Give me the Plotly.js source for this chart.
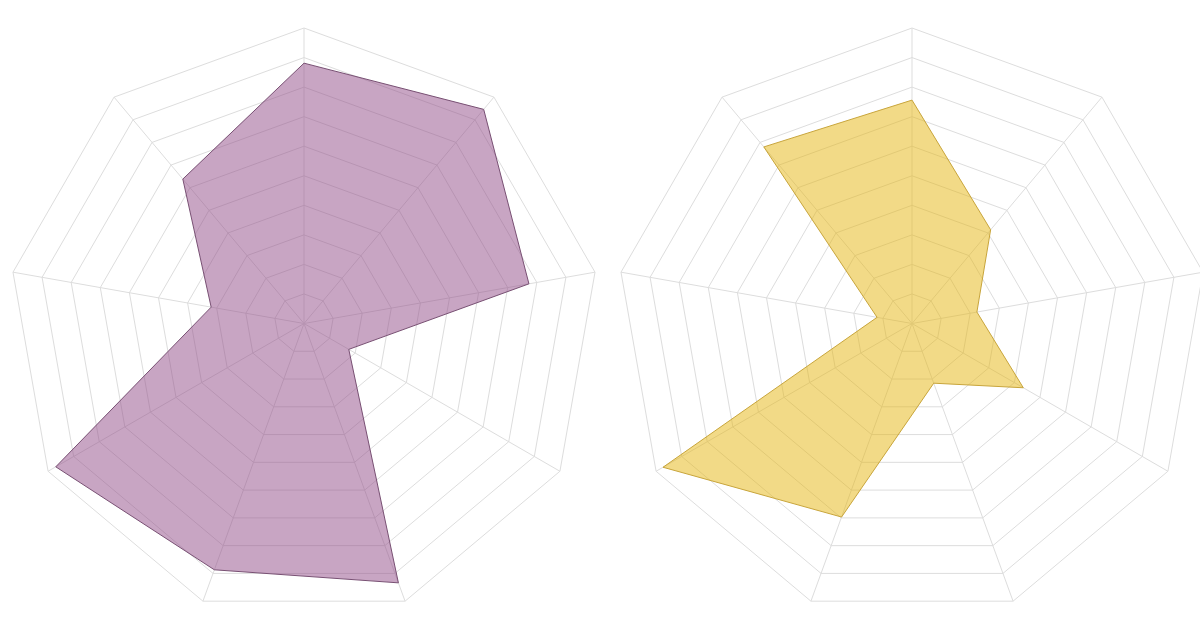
<!DOCTYPE html>
<html>
<head>
<meta charset="utf-8">
<script src="https://cdn.plot.ly/plotly-3.0.1.min.js"></script>
<style>
html,body{margin:0;padding:0;overflow:hidden;background:#fff;}
#chart{width:1216px;height:630px;}
</style>
</head>
<body>
<div id="chart"></div>
<script>
var categories = ["A", "B", "C", "D", "E", "F", "G", "H", "I"];
var seriesLeft = [8.81, 9.46, 7.73, 1.75, 9.34, 8.87, 9.70, 3.19, 6.38];
var seriesRight = [7.56, 4.14, 2.23, 4.35, 2.15, 6.97, 9.73, 1.20, 7.80];

function closed(arr) { return arr.concat([arr[0]]); }

var traces = [
  {
    type: "scatterpolar",
    r: closed(seriesLeft),
    theta: closed(categories),
    fill: "toself",
    fillcolor: "rgba(145,75,135,0.5)",
    line: {color: "rgb(120,80,115)", width: 1},
    mode: "lines",
    subplot: "polar",
    hoverinfo: "skip"
  },
  {
    type: "scatterpolar",
    r: closed(seriesRight),
    theta: closed(categories),
    fill: "toself",
    fillcolor: "rgba(229,181,15,0.5)",
    line: {color: "rgb(200,165,60)", width: 1},
    mode: "lines",
    subplot: "polar2",
    hoverinfo: "skip"
  }
];

function polarCfg(dom) {
  return {
    domain: {x: dom, y: [0, 1]},
    gridshape: "linear",
    bgcolor: "rgba(0,0,0,0)",
    radialaxis: {
      range: [0, 10], dtick: 1, showticklabels: false, ticks: "",
      showline: false, gridcolor: "#dddddd", gridwidth: 1, angle: 90
    },
    angularaxis: {
      direction: "clockwise", rotation: 90, showticklabels: false, ticks: "",
      showline: true, linecolor: "#dddddd", linewidth: 1,
      gridcolor: "#dddddd", gridwidth: 1,
      categoryarray: categories, categoryorder: "array"
    }
  };
}

var layout = {
  width: 1216, height: 630,
  margin: {l: 0, r: 0, t: 28, b: 11},
  paper_bgcolor: "#ffffff",
  showlegend: false,
  polar: polarCfg([0, 0.5]),
  polar2: polarCfg([0.5, 1])
};

Plotly.newPlot("chart", traces, layout, {displayModeBar: false, staticPlot: true});
</script>
</body>
</html>
